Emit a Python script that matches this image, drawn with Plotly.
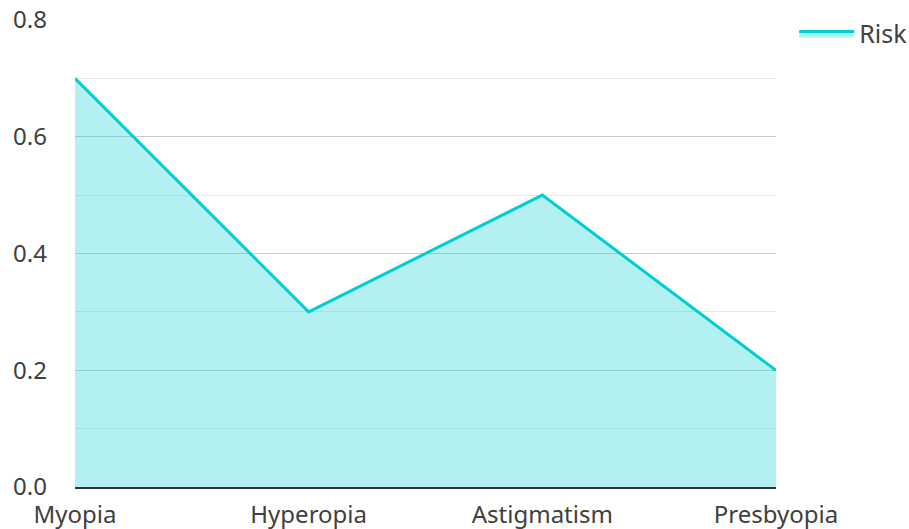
import plotly.graph_objects as go

categories = ["Myopia", "Hyperopia", "Astigmatism", "Presbyopia"]
risk = [0.7, 0.3, 0.5, 0.2]
y_ticks = [0.0, 0.2, 0.4, 0.6, 0.8]
y_tick_labels = ["0.0", "0.2", "0.4", "0.6", "0.8"]

fig = go.Figure()
fig.add_trace(go.Scatter(
    x=categories, y=risk, name="Risk", mode="lines",
    line=dict(color="#00CED1", width=3),
    fill="tozeroy", fillcolor="rgba(0,206,209,0.3)",
    showlegend=True,
))

fig.update_layout(
    width=909, height=529,
    margin=dict(l=75, r=133, t=20, b=42, autoexpand=False),
    paper_bgcolor="white", plot_bgcolor="white",
    font=dict(family="Noto Sans", size=24, color="#404040"),
    showlegend=True,
    legend=dict(x=1.026, xanchor="left", y=1.02, yanchor="top",
                font=dict(size=25, color="#404040"), itemwidth=55,
                bgcolor="rgba(0,0,0,0)"),
    xaxis=dict(range=[0, 3], showgrid=False, showline=True, linecolor="#333333",
               linewidth=2, ticks="", tickfont=dict(size=24, color="#404040"),
               ticklabelstandoff=5,
               zeroline=False, fixedrange=True, automargin=False),
    yaxis=dict(range=[0, 0.8], tickvals=y_ticks, ticktext=y_tick_labels,
               showgrid=True, gridcolor="#cccccc", gridwidth=1,
               zeroline=False, showline=False, ticks="",
               ticklabelstandoff=27, automargin=False,
               tickfont=dict(size=24, color="#404040"),
               minor=dict(dtick=0.1, showgrid=True, gridcolor="#e8e8e8", gridwidth=1)),
)

fig.write_html("out.html",
               config={"displayModeBar": False},
               post_script="document.body.style.margin='0';document.body.style.overflow='hidden';")
